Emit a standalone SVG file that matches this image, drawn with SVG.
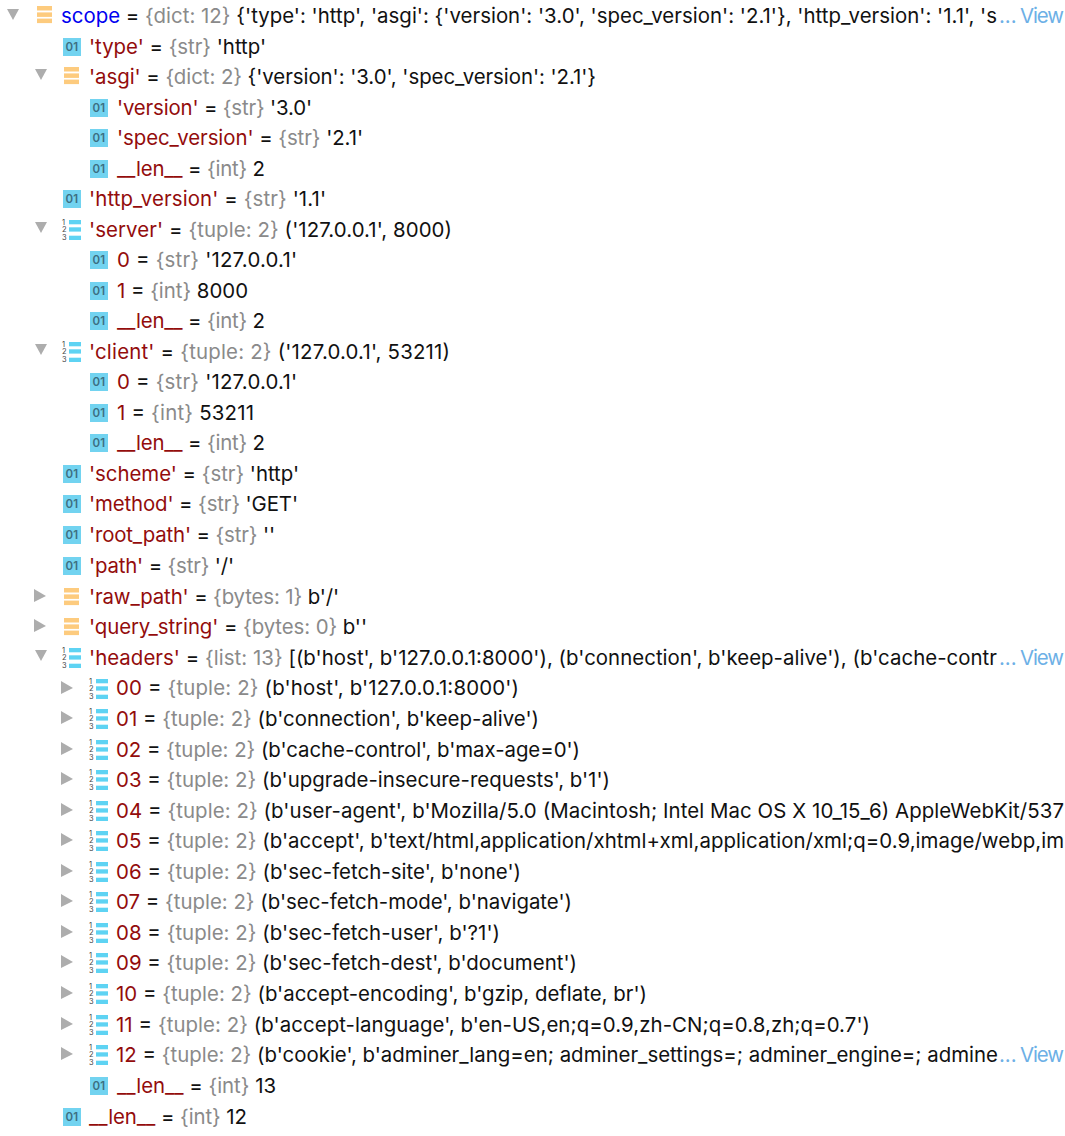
<svg xmlns="http://www.w3.org/2000/svg" width="1065" height="1136" viewBox="0 0 1065 1136">
<style>
text{font-family:"Inter","Liberation Sans",Arial,sans-serif;font-size:20.4px;fill:#111;white-space:pre}
.k{fill:#930c0c}.s{fill:#0000f0}.t{fill:#8a8a8a}.l{fill:#6db0e6}
.n{font-size:11.5px;font-weight:600;fill:#3d6f82}.d{font-size:7.5px;fill:#444}
.o{fill:#fdcb7e}.b{fill:#5ed3f3}.c{fill:#72d3f0}.a{fill:#adadad}
</style>
<defs>
<g id="dict"><rect class="o" x="0" y="-9" width="15" height="4.5"/><rect class="o" x="0" y="-2.6" width="15" height="4.5"/><rect class="o" x="0" y="3.6" width="15" height="4.5"/></g>
<g id="tup"><text class="d" x="0" y="-5.3">1</text><text class="d" x="0" y="2">2</text><text class="d" x="0" y="9.5">3</text><rect class="b" x="7" y="-10" width="12" height="4.3"/><rect class="b" x="7" y="-2.7" width="12" height="4.3"/><rect class="b" x="7" y="5.7" width="12" height="4.3"/></g>
<g id="num"><rect class="c" x="0" y="-9" width="18" height="18"/><text class="n" x="2.6" y="4.2" textLength="12.6">01</text></g>
<path id="dn" class="a" d="M0-6H12L6 5Z"/>
<path id="rt" class="a" d="M0-7L12 0L0 6Z"/>
</defs>
<rect width="1065" height="1136" fill="#fff"/>
<g id="scope"><use href="#dn" x="7" y="15"/><use href="#dict" x="37" y="15"/><text y="23" textLength="936"><tspan class="s" x="61">scope</tspan> = <tspan class="t">{dict: 12}</tspan> {'type': 'http', 'asgi': {'version': '3.0', 'spec_version': '2.1'}, 'http_version': '1.1', 's</text><text class="l" x="999" y="23">...</text><text class="l" x="1020" y="23" textLength="44">View</text></g>
<g id="type"><use href="#num" x="63" y="47"/><text x="89" y="54" textLength="177"><tspan class="k">'type'</tspan> = <tspan class="t">{str}</tspan> 'http'</text></g>
<g id="asgi"><use href="#dn" x="35" y="75"/><use href="#dict" x="64" y="76"/><text x="89" y="84" textLength="507"><tspan class="k">'asgi'</tspan> = <tspan class="t">{dict: 2}</tspan> {'version': '3.0', 'spec_version': '2.1'}</text></g>
<g id="asgi-version"><use href="#num" x="90" y="108"/><text x="117" y="115" textLength="195"><tspan class="k">'version'</tspan> = <tspan class="t">{str}</tspan> '3.0'</text></g>
<g id="asgi-spec"><use href="#num" x="90" y="138"/><text x="117" y="145" textLength="246"><tspan class="k">'spec_version'</tspan> = <tspan class="t">{str}</tspan> '2.1'</text></g>
<g id="asgi-len"><use href="#num" x="90" y="169"/><text x="117" y="176" textLength="148"><tspan class="k">__len__</tspan> = <tspan class="t">{int}</tspan> 2</text></g>
<g id="http-version"><use href="#num" x="63" y="199"/><text x="89" y="206" textLength="237"><tspan class="k">'http_version'</tspan> = <tspan class="t">{str}</tspan> '1.1'</text></g>
<g id="server"><use href="#dn" x="35" y="228"/><use href="#tup" x="62" y="230"/><text x="89" y="237" textLength="363"><tspan class="k">'server'</tspan> = <tspan class="t">{tuple: 2}</tspan> ('127.0.0.1', 8000)</text></g>
<g id="server-0"><use href="#num" x="90" y="260"/><text x="117" y="267" textLength="180"><tspan class="k">0</tspan> = <tspan class="t">{str}</tspan> '127.0.0.1'</text></g>
<g id="server-1"><use href="#num" x="90" y="291"/><text x="117" y="298" textLength="131"><tspan class="k">1</tspan> = <tspan class="t">{int}</tspan> 8000</text></g>
<g id="server-len"><use href="#num" x="90" y="321"/><text x="117" y="328" textLength="148"><tspan class="k">__len__</tspan> = <tspan class="t">{int}</tspan> 2</text></g>
<g id="client"><use href="#dn" x="35" y="350"/><use href="#tup" x="62" y="352"/><text x="89" y="359" textLength="361"><tspan class="k">'client'</tspan> = <tspan class="t">{tuple: 2}</tspan> ('127.0.0.1', 53211)</text></g>
<g id="client-0"><use href="#num" x="90" y="382"/><text x="117" y="389" textLength="180"><tspan class="k">0</tspan> = <tspan class="t">{str}</tspan> '127.0.0.1'</text></g>
<g id="client-1"><use href="#num" x="90" y="413"/><text x="117" y="420" textLength="137"><tspan class="k">1</tspan> = <tspan class="t">{int}</tspan> 53211</text></g>
<g id="client-len"><use href="#num" x="90" y="443"/><text x="117" y="450" textLength="148"><tspan class="k">__len__</tspan> = <tspan class="t">{int}</tspan> 2</text></g>
<g id="scheme"><use href="#num" x="63" y="474"/><text x="89" y="481" textLength="210"><tspan class="k">'scheme'</tspan> = <tspan class="t">{str}</tspan> 'http'</text></g>
<g id="method"><use href="#num" x="63" y="504"/><text x="89" y="511" textLength="209"><tspan class="k">'method'</tspan> = <tspan class="t">{str}</tspan> 'GET'</text></g>
<g id="root-path"><use href="#num" x="63" y="535"/><text x="89" y="542" textLength="186"><tspan class="k">'root_path'</tspan> = <tspan class="t">{str}</tspan> ''</text></g>
<g id="path"><use href="#num" x="63" y="566"/><text x="89" y="573" textLength="145"><tspan class="k">'path'</tspan> = <tspan class="t">{str}</tspan> '/'</text></g>
<g id="raw-path"><use href="#rt" x="34" y="596"/><use href="#dict" x="64" y="597"/><text x="89" y="604" textLength="250"><tspan class="k">'raw_path'</tspan> = <tspan class="t">{bytes: 1}</tspan> b'/'</text></g>
<g id="query-string"><use href="#rt" x="34" y="626"/><use href="#dict" x="64" y="627"/><text x="89" y="634" textLength="278"><tspan class="k">'query_string'</tspan> = <tspan class="t">{bytes: 0}</tspan> b''</text></g>
<g id="headers"><use href="#dn" x="35" y="656"/><use href="#tup" x="62" y="658"/><text x="89" y="665" textLength="908"><tspan class="k">'headers'</tspan> = <tspan class="t">{list: 13}</tspan> [(b'host', b'127.0.0.1:8000'), (b'connection', b'keep-alive'), (b'cache-contr</text><text class="l" x="999" y="665">...</text><text class="l" x="1020" y="665" textLength="44">View</text></g>
<g id="h00"><use href="#rt" x="61" y="688"/><use href="#tup" x="89" y="689"/><text x="116" y="695" textLength="403"><tspan class="k">00</tspan> = <tspan class="t">{tuple: 2}</tspan> (b'host', b'127.0.0.1:8000')</text></g>
<g id="h01"><use href="#rt" x="61" y="718"/><use href="#tup" x="89" y="719"/><text x="116" y="726" textLength="423"><tspan class="k">01</tspan> = <tspan class="t">{tuple: 2}</tspan> (b'connection', b'keep-alive')</text></g>
<g id="h02"><use href="#rt" x="61" y="749"/><use href="#tup" x="89" y="750"/><text x="116" y="757" textLength="464"><tspan class="k">02</tspan> = <tspan class="t">{tuple: 2}</tspan> (b'cache-control', b'max-age=0')</text></g>
<g id="h03"><use href="#rt" x="61" y="779"/><use href="#tup" x="89" y="780"/><text x="116" y="787" textLength="494"><tspan class="k">03</tspan> = <tspan class="t">{tuple: 2}</tspan> (b'upgrade-insecure-requests', b'1')</text></g>
<g id="h04"><use href="#rt" x="61" y="810"/><use href="#tup" x="89" y="811"/><text x="116" y="818" textLength="948"><tspan class="k">04</tspan> = <tspan class="t">{tuple: 2}</tspan> (b'user-agent', b'Mozilla/5.0 (Macintosh; Intel Mac OS X 10_15_6) AppleWebKit/537</text></g>
<g id="h05"><use href="#rt" x="61" y="840"/><use href="#tup" x="89" y="841"/><text x="116" y="848" textLength="948"><tspan class="k">05</tspan> = <tspan class="t">{tuple: 2}</tspan> (b'accept', b'text/html,application/xhtml+xml,application/xml;q=0.9,image/webp,im</text></g>
<g id="h06"><use href="#rt" x="61" y="871"/><use href="#tup" x="89" y="872"/><text x="116" y="879" textLength="405"><tspan class="k">06</tspan> = <tspan class="t">{tuple: 2}</tspan> (b'sec-fetch-site', b'none')</text></g>
<g id="h07"><use href="#rt" x="61" y="901"/><use href="#tup" x="89" y="902"/><text x="116" y="909" textLength="456"><tspan class="k">07</tspan> = <tspan class="t">{tuple: 2}</tspan> (b'sec-fetch-mode', b'navigate')</text></g>
<g id="h08"><use href="#rt" x="61" y="932"/><use href="#tup" x="89" y="933"/><text x="116" y="940" textLength="384"><tspan class="k">08</tspan> = <tspan class="t">{tuple: 2}</tspan> (b'sec-fetch-user', b'?1')</text></g>
<g id="h09"><use href="#rt" x="61" y="962"/><use href="#tup" x="89" y="963"/><text x="116" y="970" textLength="461"><tspan class="k">09</tspan> = <tspan class="t">{tuple: 2}</tspan> (b'sec-fetch-dest', b'document')</text></g>
<g id="h10"><use href="#rt" x="61" y="993"/><use href="#tup" x="89" y="994"/><text x="116" y="1001" textLength="531"><tspan class="k">10</tspan> = <tspan class="t">{tuple: 2}</tspan> (b'accept-encoding', b'gzip, deflate, br')</text></g>
<g id="h11"><use href="#rt" x="61" y="1024"/><use href="#tup" x="89" y="1025"/><text x="116" y="1032" textLength="754"><tspan class="k">11</tspan> = <tspan class="t">{tuple: 2}</tspan> (b'accept-language', b'en-US,en;q=0.9,zh-CN;q=0.8,zh;q=0.7')</text></g>
<g id="h12"><use href="#rt" x="61" y="1054"/><use href="#tup" x="89" y="1055"/><text x="116" y="1062" textLength="882"><tspan class="k">12</tspan> = <tspan class="t">{tuple: 2}</tspan> (b'cookie', b'adminer_lang=en; adminer_settings=; adminer_engine=; admine</text><text class="l" x="999" y="1062">...</text><text class="l" x="1020" y="1062" textLength="44">View</text></g>
<g id="headers-len"><use href="#num" x="90" y="1086"/><text x="117" y="1093" textLength="159"><tspan class="k">__len__</tspan> = <tspan class="t">{int}</tspan> 13</text></g>
<g id="len"><use href="#num" x="63" y="1117"/><text x="89" y="1124" textLength="158"><tspan class="k">__len__</tspan> = <tspan class="t">{int}</tspan> 12</text></g>
</svg>
